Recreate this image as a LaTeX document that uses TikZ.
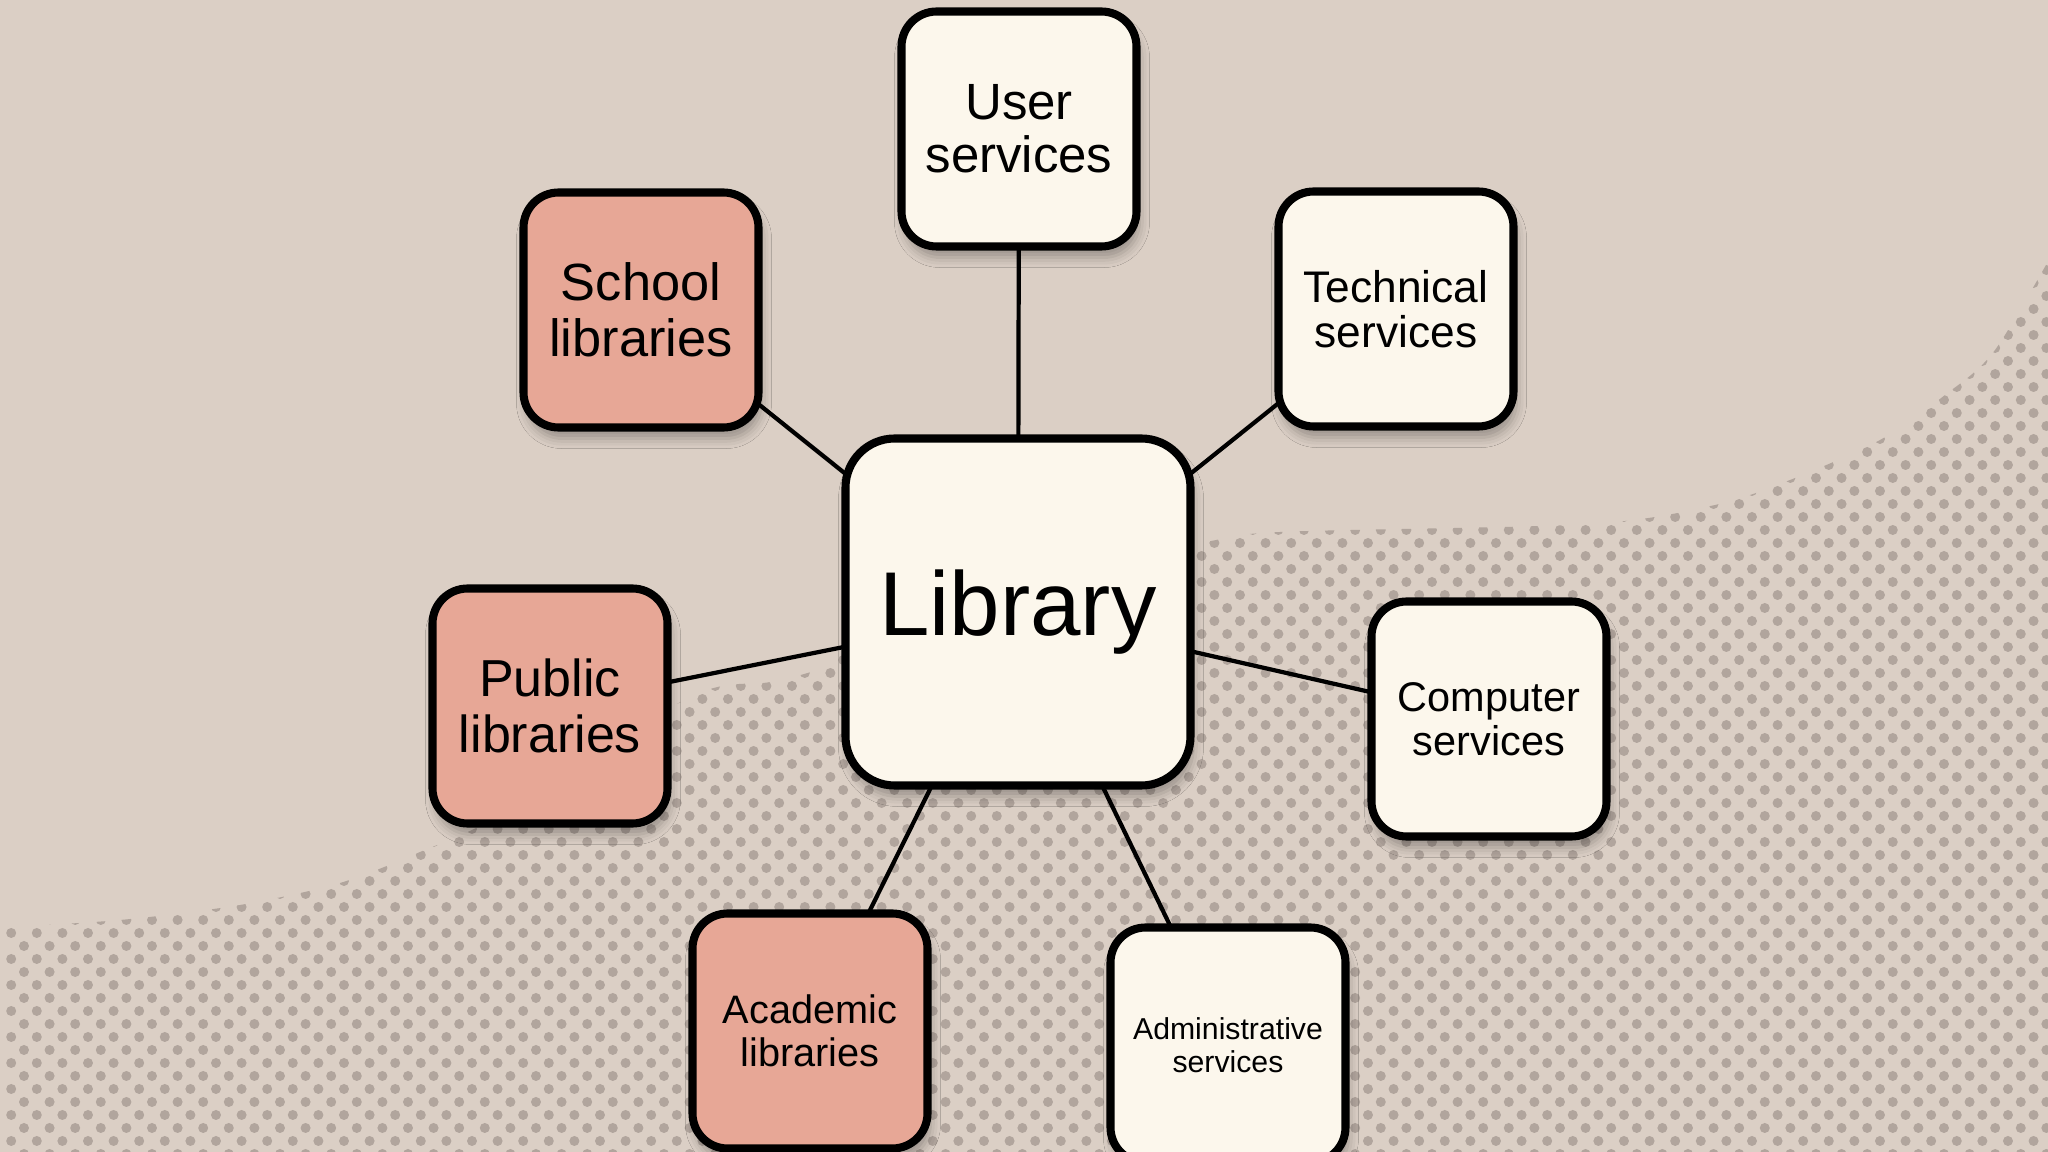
\documentclass[tikz,border=0pt]{standalone}
\usepackage{fontspec}
\setmainfont{Liberation Sans}
\usetikzlibrary{shadows.blur}

\definecolor{paper}{RGB}{219,207,197}
\definecolor{dotgray}{RGB}{177,165,157}
\definecolor{cream}{RGB}{252,247,236}
\definecolor{salmon}{RGB}{231,167,150}

\pgfdeclarelayer{bg}
\pgfdeclarelayer{links}
\pgfsetlayers{bg,links,main}

\begin{document}
\begin{tikzpicture}[
    box/.style={draw, line width=2.3pt, rounded corners=10pt, minimum width=2.35cm, minimum height=2.35cm,
        align=center, inner sep=0pt,
        blur shadow={shadow xshift=0.3mm, shadow yshift=-1.1mm, shadow blur radius=1mm, shadow opacity=30}},
    service/.style={box, fill=cream},
    kind/.style={box, fill=salmon},
    hub/.style={box, fill=cream, rounded corners=14pt, minimum width=3.45cm, minimum height=3.47cm},
    link/.style={line width=1.2pt}
]
        \useasboundingbox (0,0) rectangle (20.48,-11.52);

        \node[hub, font=\fontsize{25.8}{30}\selectfont] (lib) at (10.18,-6.12) {Library};

        \node[service, font=\fontsize{14.5}{15.2}\selectfont] (user) at (10.19,-1.29) {User\\services};
        \node[service, font=\fontsize{12.6}{12.8}\selectfont] (tech) at (13.96,-3.09) {Technical\\services};
        \node[service, font=\fontsize{11.8}{12.4}\selectfont] (comp) at (14.89,-7.19) {Computer\\services};
        \node[service, font=\fontsize{8.6}{9.3}\selectfont] (admin) at (12.28,-10.45) {Administrative\\services};

        \node[kind, font=\fontsize{14.9}{15.8}\selectfont] (school) at (6.41,-3.10) {School\\libraries};
        \node[kind, font=\fontsize{14.8}{16}\selectfont] (public) at (5.50,-7.06) {Public\\libraries};
        \node[kind, font=\fontsize{11.3}{12.4}\selectfont] (acad) at (8.10,-10.31) {Academic\\libraries};

        \begin{pgfonlayer}{links}
        \foreach \n in {user,tech,comp,admin,school,public,acad}
            \draw[link] (lib.center) -- (\n.center);
        \end{pgfonlayer}

        \begin{pgfonlayer}{bg}
        \fill[paper] (0,0) rectangle (20.48,-11.52);
        \begin{scope}
        \clip plot[smooth] coordinates {(-0.1,-9.28) (1.2,-9.2) (2.4,-9.05) (3.4,-8.83) (4.2,-8.52)
            (5.0,-8.15) (6.9,-6.97) (7.7,-6.82) (8.2,-6.68) (8.6,-6.35) (10.2,-5.75) (12.0,-5.43)
            (12.8,-5.32) (15.9,-5.24) (17.15,-5.05) (17.9,-4.8) (18.8,-4.4) (19.45,-3.95)
            (19.95,-3.5) (20.6,-2.4)} -- (20.6,-11.6) -- (-0.1,-11.6) -- cycle;
        \foreach \j in {0,...,35}{
            \fill[dotgray] \foreach \k in {0,...,80}{
                (0.24+0.256*\k,-2.44-0.26*\j) circle (0.05)
                (0.112+0.256*\k,-2.57-0.26*\j) circle (0.05)
            };
        }
        \end{scope}
        \end{pgfonlayer}
    \end{tikzpicture}
\end{document}
